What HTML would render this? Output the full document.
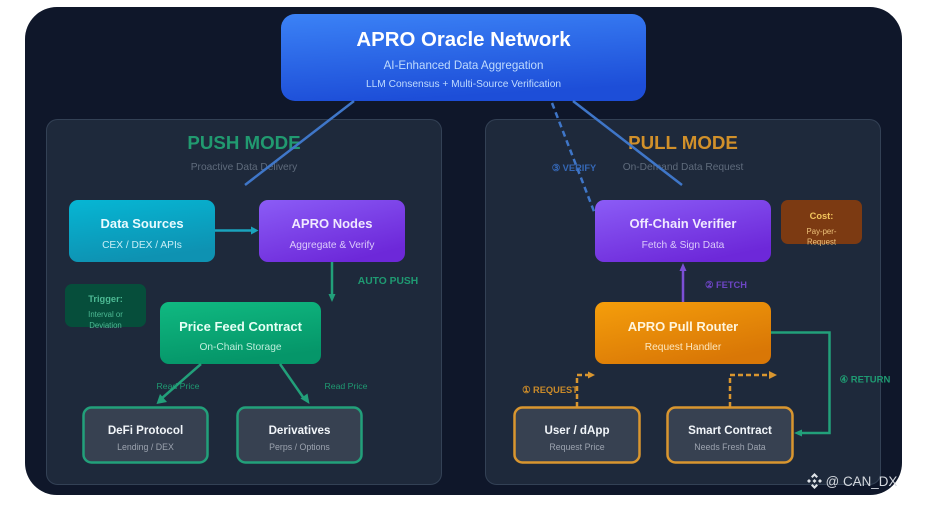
<!DOCTYPE html>
<html><head><meta charset="utf-8"><style>
html,body{margin:0;padding:0;background:#fff;width:943px;height:509px;overflow:hidden}
svg{display:block;filter:blur(0.35px)}
text{font-family:"Liberation Sans",sans-serif;text-anchor:middle}
</style></head><body>
<svg width="943" height="509" viewBox="0 0 943 509" xmlns="http://www.w3.org/2000/svg">
<defs>
<linearGradient id="b" x1="0" y1="0" x2="0.25" y2="1"><stop offset="0" stop-color="#3b82f6"/><stop offset="1" stop-color="#1d4ed8"/></linearGradient>
<linearGradient id="c" x1="0" y1="0" x2="0.3" y2="1"><stop offset="0" stop-color="#06b6d4"/><stop offset="1" stop-color="#0e92b2"/></linearGradient>
<linearGradient id="p" x1="0" y1="0" x2="0.6" y2="1"><stop offset="0" stop-color="#8b5cf6"/><stop offset="1" stop-color="#6d28d9"/></linearGradient>
<linearGradient id="g" x1="0" y1="0" x2="0.3" y2="1"><stop offset="0" stop-color="#10b981"/><stop offset="1" stop-color="#059669"/></linearGradient>
<linearGradient id="o" x1="0" y1="0" x2="0.6" y2="1"><stop offset="0" stop-color="#f59e0b"/><stop offset="1" stop-color="#d97706"/></linearGradient>
</defs>
<rect x="25" y="7" width="877" height="488" rx="32" fill="#0f172a"/>
<rect x="46.5" y="119.5" width="395" height="365" rx="11" fill="#1e293b" stroke="#334155"/>
<rect x="485.5" y="119.5" width="395" height="365" rx="11" fill="#1e293b" stroke="#334155"/>

<rect x="281" y="14" width="365" height="87" rx="14" fill="url(#b)"/>
<text x="463.5" y="46" font-size="20.4" font-weight="700" fill="#fff">APRO Oracle Network</text>
<text x="463.5" y="69" font-size="11.6" fill="#bfdbfe">AI-Enhanced Data Aggregation</text>
<text x="463.5" y="87" font-size="10.2" fill="#bfdbfe">LLM Consensus + Multi-Source Verification</text>

<text x="244" y="149" font-size="18.7" font-weight="700" fill="#219a70">PUSH MODE</text>
<text x="244" y="170" font-size="10.2" fill="#5f6b7c">Proactive Data Delivery</text>
<text x="683" y="149" font-size="18.7" font-weight="700" fill="#d1902a">PULL MODE</text>
<text x="683" y="170" font-size="10.2" fill="#5f6b7c">On-Demand Data Request</text>

<g stroke-width="2.5" fill="none">
<path d="M354 101 L245 185" stroke="#3f76c8"/>
<path d="M573 101 L682 185" stroke="#3f76c8"/>
<path d="M552 103 L595 214" stroke="#3f76c8" stroke-dasharray="6 4"/>
</g>
<text x="574" y="171" font-size="9.300" font-weight="700" fill="#3567b5">③ VERIFY</text>

<rect x="69" y="200" width="146" height="62" rx="9" fill="url(#c)"/>
<text x="142" y="228" font-size="13" font-weight="700" fill="#e8fbff">Data Sources</text>
<text x="142" y="248" font-size="10.200" fill="#c8eef6">CEX / DEX / APIs</text>

<rect x="259" y="200" width="146" height="62" rx="9" fill="url(#p)"/>
<text x="332" y="228" font-size="13" font-weight="700" fill="#f0e9ff">APRO Nodes</text>
<text x="332" y="248" font-size="10.200" fill="#dccbfb">Aggregate &amp; Verify</text>

<rect x="595" y="200" width="176" height="62" rx="9" fill="url(#p)"/>
<text x="683" y="228" font-size="13" font-weight="700" fill="#f0e9ff">Off-Chain Verifier</text>
<text x="683" y="248" font-size="10.200" fill="#dccbfb">Fetch &amp; Sign Data</text>

<rect x="781" y="200" width="81" height="44" rx="7" fill="#7c3a12"/>
<text x="821.500" y="219" font-size="9.300" font-weight="700" fill="#f2c55c">Cost:</text>
<text x="821.500" y="234" font-size="7.800" fill="#eec27a">Pay-per-</text>
<text x="821.500" y="244.500" font-size="7.800" fill="#eec27a">Request</text>

<path d="M215 230.500H254" stroke="#1aa3bd" stroke-width="2.500"/><path d="M258.500 230.500L251 226.500V234.500Z" fill="#1aa3bd"/>
<path d="M332 262V296" stroke="#22a07a" stroke-width="2.500"/><path d="M332 302L328.500 294H335.500Z" fill="#22a07a"/>
<text x="388" y="284" font-size="10.300" font-weight="700" fill="#1f9a72">AUTO PUSH</text>

<rect x="65" y="284" width="81" height="43" rx="7" fill="#064e3b"/>
<text x="105.500" y="302" font-size="9.300" font-weight="700" fill="#4dba94">Trigger:</text>
<text x="105.500" y="317" font-size="7.800" fill="#4dba94">Interval or</text>
<text x="105.500" y="328" font-size="7.800" fill="#4dba94">Deviation</text>

<rect x="160" y="302" width="161" height="62" rx="9" fill="url(#g)"/>
<text x="240.500" y="331" font-size="13" font-weight="700" fill="#e6fff5">Price Feed Contract</text>
<text x="240.500" y="350" font-size="10.200" fill="#bdeedb">On-Chain Storage</text>

<g stroke="#22a07a" stroke-width="2.500" fill="none">
<path d="M201 364L161 399"/><path d="M280 364L305 400"/>
</g>
<path d="M156.500 404L160 394L167 402Z" fill="#22a07a"/>
<path d="M309.500 404L300.500 398.500L307.500 393.500Z" fill="#22a07a"/>
<text x="178" y="389" font-size="8.700" fill="#1f9a72">Read Price</text>
<text x="346" y="389" font-size="8.700" fill="#1f9a72">Read Price</text>

<rect x="83.500" y="407.500" width="124" height="55" rx="8" fill="#374151" stroke="#22a07a" stroke-width="2.500"/>
<text x="145.500" y="434" font-size="11.600" font-weight="700" fill="#f1f5f9">DeFi Protocol</text>
<text x="145.500" y="450" font-size="8.800" fill="#9ca3af">Lending / DEX</text>
<rect x="237.500" y="407.500" width="124" height="55" rx="8" fill="#374151" stroke="#22a07a" stroke-width="2.500"/>
<text x="299.500" y="434" font-size="11.600" font-weight="700" fill="#f1f5f9">Derivatives</text>
<text x="299.500" y="450" font-size="8.800" fill="#9ca3af">Perps / Options</text>

<rect x="595" y="302" width="176" height="62" rx="9" fill="url(#o)"/>
<text x="683" y="331" font-size="13" font-weight="700" fill="#fff5dc">APRO Pull Router</text>
<text x="683" y="350" font-size="10.200" fill="#fde8c0">Request Handler</text>

<path d="M683 302V268" stroke="#7c4fd6" stroke-width="2.500"/><path d="M683 263L679.500 271H686.500Z" fill="#7c4fd6"/>
<text x="726" y="288" font-size="9.300" font-weight="700" fill="#6d45c4">② FETCH</text>

<path d="M771 332.500H829.500V433H801" stroke="#22a07a" stroke-width="2.500" fill="none"/><path d="M794 433L802 429.500V436.500Z" fill="#22a07a"/>
<text x="865" y="382.500" font-size="9.500" font-weight="700" fill="#1f9a72">④ RETURN</text>

<path d="M577 407V375H589" stroke="#d9962f" stroke-width="2.500" fill="none" stroke-dasharray="5 3"/><path d="M595 375L588 371.500V378.500Z" fill="#d9962f"/>
<path d="M730 407V375H770" stroke="#d9962f" stroke-width="2.500" fill="none" stroke-dasharray="5 3"/><path d="M777 375L769 371V379Z" fill="#d9962f"/>
<text x="550" y="393" font-size="9.300" font-weight="700" fill="#c98a2a">① REQUEST</text>

<rect x="514.500" y="407.500" width="125" height="55" rx="8" fill="#374151" stroke="#d9962f" stroke-width="2.500"/>
<text x="577" y="434" font-size="11.600" font-weight="700" fill="#f1f5f9">User / dApp</text>
<text x="577" y="450" font-size="8.800" fill="#9ca3af">Request Price</text>
<rect x="667.500" y="407.500" width="125" height="55" rx="8" fill="#374151" stroke="#d9962f" stroke-width="2.500"/>
<text x="730" y="434" font-size="11.600" font-weight="700" fill="#f1f5f9">Smart Contract</text>
<text x="730" y="450" font-size="8.800" fill="#9ca3af">Needs Fresh Data</text>

<g fill="#dfe3e8">
<path d="M814.500 473L818 476.500L816.500 478L814.500 476L812.500 478L811 476.500Z"/>
<path d="M814.500 489L818 485.500L816.500 484L814.500 486L812.500 484L811 485.500Z"/>
<path d="M809 479L811 481L809 483L807 481Z"/>
<path d="M820 479L822 481L820 483L818 481Z"/>
<path d="M814.500 479L816.500 481L814.500 483L812.500 481Z"/>
</g>
<text x="861.500" y="486" font-size="13.400" fill="#d4d8de">@ CAN_DX</text>
</svg>
</body></html>
